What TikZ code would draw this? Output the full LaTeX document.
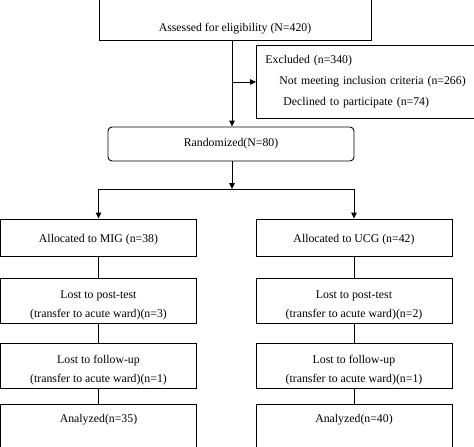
\documentclass[tikz,border=0pt]{standalone}
\usepackage{fontspec}
\setmainfont{Liberation Serif}
\usetikzlibrary{positioning}
\usetikzlibrary{arrows.meta}

\begin{document}
\begin{tikzpicture}[x=1pt,y=-1pt,line width=0.9pt,>={Triangle[length=6pt,width=5.5pt]},
	box/.style={draw,align=center,font=\fontsize{11.8}{19}\selectfont},
	colbox/.style={box,minimum width=196pt,minimum height=45pt,inner sep=0pt},
	twoline/.style={colbox,text height=35pt}]
	\useasboundingbox (0,0) rectangle (474,447);

		% screening
		\node (assess) [box,anchor=south,minimum width=272pt,text height=45pt,inner ysep=7pt] at (235,41) {Assessed for eligibility (N=420)};
		\node (excl) [box,anchor=north west,align=left,text width=206pt,minimum height=73pt,inner xsep=9pt,font=\fontsize{11.8}{21}\selectfont] at (256,45) {Excluded (n=340)\\ \hspace*{14pt}Not meeting inclusion criteria (n=266)\\ \hspace*{18pt}Declined to participate (n=74)};

		% randomization
		\node (rand) [box,rounded corners=4pt,minimum width=246pt,minimum height=34pt] at (231,144) {Randomized(N=80)};
		\coordinate (split) at (232,189);

		\draw [->] (split |- assess.south) -- (split |- rand.north);
		\draw [->] (split |- excl.west) -- (excl.west);
		\draw [->] (split |- rand.south) -- (split);

		% MIG arm
		\node (alloc1) [colbox,minimum height=37pt,text height=10pt,text depth=0pt] at (98.5,237.5) {Allocated to MIG (n=38)};
		\node (post1) [twoline,below = 22pt of alloc1] {Lost to post-test\\(transfer to acute ward)(n=3)};
		\node (follow1) [twoline,below = 19pt of post1] {Lost to follow-up\\(transfer to acute ward)(n=1)};
		\node (anal1) [colbox,below = 15pt of follow1,text height=8pt,text depth=17pt] {Analyzed(n=35)};

		% UCG arm
		\node (alloc2) [colbox,minimum height=37pt,text height=10pt,text depth=0pt] at (354,237.5) {Allocated to UCG (n=42)};
		\node (post2) [twoline,below = 22pt of alloc2] {Lost to post-test\\(transfer to acute ward)(n=2)};
		\node (follow2) [twoline,below = 19pt of post2] {Lost to follow-up\\(transfer to acute ward)(n=1)};
		\node (anal2) [colbox,below = 15pt of follow2,text height=8pt,text depth=17pt] {Analyzed(n=40)};

		\draw (split -| alloc1) -- (split -| alloc2);
		\draw [->] (split -| alloc1) -- (alloc1.north);
		\draw [->] (split -| alloc2) -- (alloc2.north);
		\draw (alloc1) -- (post1);
		\draw (post1) -- (follow1);
		\draw (follow1) -- (anal1);
		\draw (alloc2) -- (post2);
		\draw (post2) -- (follow2);
		\draw (follow2) -- (anal2);
\end{tikzpicture}
\end{document}
